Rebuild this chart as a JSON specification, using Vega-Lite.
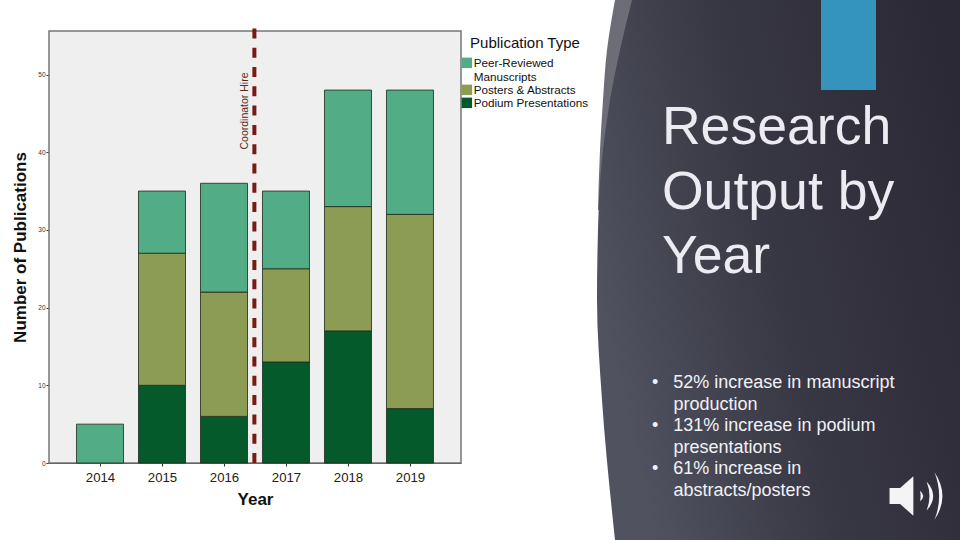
{
  "$schema": "https://vega.github.io/schema/vega-lite/v6.json",
  "width": 960,
  "height": 540,
  "autosize": "none",
  "padding": 0,
  "background": "white",
  "config": {
    "view": {"stroke": null},
    "font": "Liberation Sans"
  },
  "title": {
    "text": ["\u200b\u00a0Research", "\u200b\u00a0Output by", "\u200b\u00a0Year"],
    "subtitle": [
      "\u200b\u00a0•\u00a0\u00a0\u00a052% increase in manuscript",
      "\u200b\u00a0\u00a0\u00a0\u00a0\u00a0\u200aproduction",
      "\u200b\u00a0•\u00a0\u00a0\u00a0131% increase in podium",
      "\u200b\u00a0\u00a0\u00a0\u00a0\u00a0\u200apresentations",
      "\u200b\u00a0•\u00a0\u00a0\u00a061% increase in",
      "\u200b\u00a0\u00a0\u00a0\u00a0\u00a0\u200aabstracts/posters"
    ],
    "anchor": "start",
    "frame": "group",
    "align": "left",
    "dx": 647,
    "dy": 505,
    "fontSize": 53.6,
    "fontWeight": "normal",
    "lineHeight": 64.5,
    "color": "#ecebf1",
    "subtitleFontSize": 18,
    "subtitleLineHeight": 21.6,
    "subtitleColor": "#f2f2f6",
    "subtitlePadding": 89
  },
  "layer": [
    {
      "layer": [
        {
          "data": {"values": [
            {"level": 0, "edge": 615},
            {"level": 50, "edge": 607},
            {"level": 100, "edge": 603},
            {"level": 150, "edge": 600},
            {"level": 210, "edge": 598}
          ]},
          "mark": {"type": "area", "orient": "horizontal", "interpolate": "monotone", "color": "#6d6d78"},
          "encoding": {
            "x": {"field": "edge", "type": "quantitative", "scale": {"domain": [0, 960], "range": [0, 960], "nice": false}, "axis": null},
            "x2": {"datum": 640},
            "y": {"field": "level", "type": "quantitative", "scale": {"domain": [0, 540], "range": [0, 540], "nice": false}, "axis": null}
          }
        },
        {
          "data": {"values": [
            {"level": 0, "edge": 632},
            {"level": 50, "edge": 620},
            {"level": 100, "edge": 610},
            {"level": 150, "edge": 603},
            {"level": 200, "edge": 599},
            {"level": 300, "edge": 597},
            {"level": 400, "edge": 602},
            {"level": 540, "edge": 615}
          ]},
          "mark": {
            "type": "area",
            "orient": "horizontal",
            "interpolate": "monotone",
            "color": {
              "gradient": "linear",
              "x1": 0, "y1": 0.55, "x2": 1, "y2": 0.2,
              "stops": [
                {"offset": 0, "color": "#50525f"},
                {"offset": 0.45, "color": "#383744"},
                {"offset": 1, "color": "#2c2936"}
              ]
            }
          },
          "encoding": {
            "x": {"field": "edge", "type": "quantitative", "axis": null},
            "x2": {"datum": 960},
            "y": {"field": "level", "type": "quantitative", "axis": null}
          }
        },
        {
          "data": {"values": [{"left": 821, "right": 876, "top": 0, "bottom": 90}]},
          "mark": {"type": "rect", "color": "#3594bd"},
          "encoding": {
            "x": {"field": "left", "type": "quantitative", "axis": null},
            "x2": {"field": "right"},
            "y": {"field": "top", "type": "quantitative", "axis": null},
            "y2": {"field": "bottom"}
          }
        },
        {
          "data": {"values": [{"cx": 916, "cy": 496}]},
          "mark": {
            "type": "point",
            "filled": true,
            "opacity": 1,
            "color": "#f4f4f6",
            "size": 2800,
            "shape": "M-1 -0.3L-0.6 -0.3L-0.1 -0.75L-0.1 0.75L-0.6 0.3L-1 0.3ZM0.15 -0.2Q0.4 0 0.15 0.2Q0.2 0 0.15 -0.2ZM0.4 -0.55Q0.9 0 0.4 0.55Q0.62 0 0.4 -0.55ZM0.7 -0.9Q1.3 0 0.7 0.9Q1.05 0 0.7 -0.9Z"
          },
          "encoding": {
            "x": {"field": "cx", "type": "quantitative", "axis": null},
            "y": {"field": "cy", "type": "quantitative", "axis": null}
          }
        }
      ]
    },
    {
      "layer": [
        {
          "data": {"values": [{"x0": 2013.177, "x1": 2019.823, "y0": 0, "y1": 55.6}]},
          "mark": {"type": "rect", "color": "#efefef", "stroke": "#777777", "strokeWidth": 1.5},
          "encoding": {
            "x": {"field": "x0", "type": "quantitative"},
            "x2": {"field": "x1"},
            "y": {"field": "y0", "type": "quantitative"},
            "y2": {"field": "y1"}
          }
        },
        {
          "data": {"values": [
            {"year": 2014, "type": "Peer-Reviewed|Manuscripts", "rank": 3, "count": 5},
            {"year": 2015, "type": "Podium Presentations", "rank": 1, "count": 10},
            {"year": 2015, "type": "Posters & Abstracts", "rank": 2, "count": 17},
            {"year": 2015, "type": "Peer-Reviewed|Manuscripts", "rank": 3, "count": 8},
            {"year": 2016, "type": "Podium Presentations", "rank": 1, "count": 6},
            {"year": 2016, "type": "Posters & Abstracts", "rank": 2, "count": 16},
            {"year": 2016, "type": "Peer-Reviewed|Manuscripts", "rank": 3, "count": 14},
            {"year": 2017, "type": "Podium Presentations", "rank": 1, "count": 13},
            {"year": 2017, "type": "Posters & Abstracts", "rank": 2, "count": 12},
            {"year": 2017, "type": "Peer-Reviewed|Manuscripts", "rank": 3, "count": 10},
            {"year": 2018, "type": "Podium Presentations", "rank": 1, "count": 17},
            {"year": 2018, "type": "Posters & Abstracts", "rank": 2, "count": 16},
            {"year": 2018, "type": "Peer-Reviewed|Manuscripts", "rank": 3, "count": 15},
            {"year": 2019, "type": "Podium Presentations", "rank": 1, "count": 7},
            {"year": 2019, "type": "Posters & Abstracts", "rank": 2, "count": 25},
            {"year": 2019, "type": "Peer-Reviewed|Manuscripts", "rank": 3, "count": 16}
          ]},
          "mark": {"type": "bar", "size": 47, "stroke": "#1c2a1c", "strokeWidth": 0.8},
          "encoding": {
            "x": {
              "field": "year",
              "type": "quantitative",
              "scale": {"domain": [2013.177, 2019.823], "range": [49, 461], "nice": false, "zero": false, "padding": 0},
              "axis": {
                "title": "Year",
                "offset": -77,
                "values": [2014, 2015, 2016, 2017, 2018, 2019],
                "format": "d",
                "grid": false,
                "domainColor": "#333333",
                "tickColor": "#333333",
                "tickSize": 3,
                "labelFontSize": 13.2,
                "labelColor": "#222222",
                "labelPadding": 5,
                "titleFontSize": 17,
                "titleFontWeight": "bold",
                "titleColor": "#111111",
                "titlePadding": 8
              }
            },
            "y": {
              "field": "count",
              "type": "quantitative",
              "aggregate": "sum",
              "stack": "zero",
              "scale": {"domain": [0, 55.6], "range": [463, 31], "nice": false},
              "axis": {
                "title": "Number of Publications",
                "offset": -49,
                "values": [0, 10, 20, 30, 40, 50],
                "grid": false,
                "domainColor": "#333333",
                "tickColor": "#333333",
                "tickSize": 3,
                "labelFontSize": 6.5,
                "labelColor": "#333333",
                "labelPadding": 1,
                "titleFontSize": 17,
                "titleFontWeight": "bold",
                "titleColor": "#111111",
                "titlePadding": 8
              }
            },
            "order": {"field": "rank"},
            "color": {
              "field": "type",
              "type": "nominal",
              "scale": {
                "domain": ["Peer-Reviewed|Manuscripts", "Posters & Abstracts", "Podium Presentations"],
                "range": ["#52ad87", "#8d9c54", "#045a2a"]
              },
              "legend": {
                "title": "Publication Type",
                "orient": "none",
                "legendX": 461,
                "legendY": 36,
                "titleFontSize": 15,
                "titleFontWeight": "normal",
                "titleColor": "#111111",
                "titleAnchor": "middle",
                "titlePadding": 6,
                "labelFontSize": 11.7,
                "labelColor": "#111111",
                "labelOffset": 1,
                "labelLimit": 130,
                "labelExpr": "split(datum.label, '|')",
                "symbolType": "square",
                "symbolSize": 110,
                "symbolStrokeWidth": 0,
                "rowPadding": 0
              }
            }
          }
        },
        {
          "data": {"values": [{"at": 2016.49, "low": 0, "high": 56}]},
          "mark": {"type": "rule", "color": "#7b1a12", "strokeWidth": 4, "strokeDash": [10, 9.3]},
          "encoding": {
            "x": {"field": "at", "type": "quantitative"},
            "y": {"field": "low", "type": "quantitative"},
            "y2": {"field": "high"}
          }
        },
        {
          "data": {"values": [{"at": 2016.49, "pubs": 45.3, "note": "Coordinator Hire"}]},
          "mark": {"type": "text", "angle": 270, "dy": -9, "fontSize": 10.5, "color": "#5a2a18", "align": "center", "baseline": "middle"},
          "encoding": {
            "x": {"field": "at", "type": "quantitative"},
            "y": {"field": "pubs", "type": "quantitative"},
            "text": {"field": "note"}
          }
        }
      ]
    }
  ],
  "resolve": {
    "scale": {"x": "independent", "y": "independent", "color": "independent"},
    "axis": {"x": "independent", "y": "independent"}
  }
}
